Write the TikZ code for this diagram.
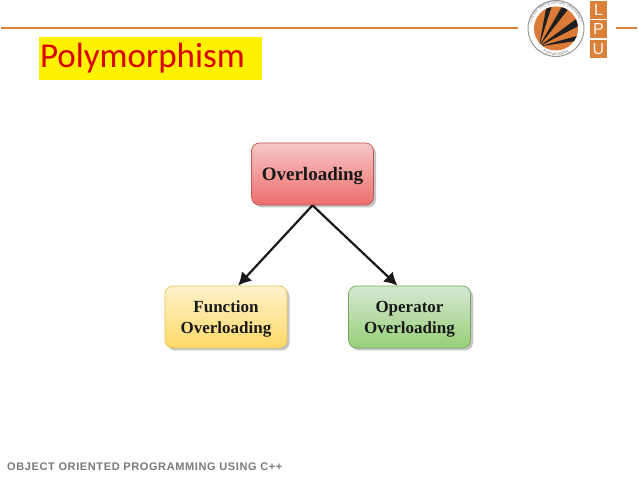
\documentclass[tikz,border=0pt]{standalone}
\usepackage{fontspec}
\setmainfont{Liberation Serif}
\newfontfamily\titlefont{Carlito}
\newfontfamily\footfont[LetterSpace=5.6]{Liberation Sans}
\newfontfamily\logofont{Liberation Sans}
\usetikzlibrary{calc,shadows,positioning,arrows.meta,decorations.text}
\definecolor{lpuorange}{HTML}{D9813A}
\definecolor{rojoa}{HTML}{F8C6C6}
\definecolor{rojob}{HTML}{EC6E6C}
\definecolor{amarilloa}{HTML}{FFF2CC}
\definecolor{amarillob}{HTML}{FFD966}
\definecolor{verdea}{HTML}{D5E8D4}
\definecolor{verdeb}{HTML}{97D077}
\tikzset{
    box/.style={rectangle,rounded corners=8pt,minimum width=122pt,minimum height=62pt,
        align=center,line width=0.7pt,text=black!90,text depth=0pt,
        node font=\bfseries\fontsize{17pt}{21pt}\selectfont,
        drop shadow={shadow xshift=2.5pt,shadow yshift=-2.5pt,opacity=0.45}},
    flecha/.style={draw,-{Latex[length=13pt,width=14pt]},line width=2.2pt,black!90},
    regla/.style={draw=lpuorange,line width=2.8pt},
    letra/.style={fill=lpuorange,text=white!92!lpuorange,minimum width=17pt,minimum height=18pt,
        inner sep=0pt,node font=\logofont\fontsize{16pt}{16pt}\selectfont},
}
\begin{document}
\begin{tikzpicture}[x=1pt,y=1pt]
    \useasboundingbox [fill=white] (0,0) rectangle (638,478);

    % lines on top
    \coordinate (l1) at (1,450);
    \coordinate (l2) at (518,450);
    \coordinate (r1) at (616,450);
    \coordinate (r2) at (637,450);
    \path [regla] (l1) -- (l2);
    \path [regla] (r1) -- (r2);

    % logo
    \node [circle,draw=black!40,line width=1pt,fill=white,minimum size=56pt,inner sep=0pt] (logo) at (556,449.5) {};
    \fill [lpuorange!95!red] (logo.center) circle (22);
    \begin{scope}
        \clip (logo.center) circle (22);
        \foreach \ang/\wid in {76/3.5,56/4,32/4.5,12/3.5} {
            \fill [black!88] ($(logo.center)+(-17,-18)$) -- ++(\ang+\wid:60) -- ++(\ang-\wid-90:{60*2*sin(\wid)}) -- cycle;
        }
    \end{scope}
    \path [decorate,decoration={text along path,text align=center,
        text={|\logofont\fontsize{3.6pt}{3.6pt}\selectfont\color{black!55}|LOVELY PROFESSIONAL UNIVERSITY}}]
        (531.5,445) arc (190:-10:24.8);
    \path [decorate,decoration={text along path,text align=center,
        text={|\logofont\fontsize{3.6pt}{3.6pt}\selectfont\color{black!55}|PUNJAB (INDIA)}}]
        (539,429) arc (229:311:26);

    \node [letra] (L) at (598.5,468) {L};
    \node [letra,below=1pt of L] (P) {P};
    \node [letra,below=1pt of P] (U) {U};

    % title
    \node [fill=yellow,minimum width=223pt,minimum height=43pt,inner sep=0pt] (banda) at (150,419.5) {};
    \node [right=1.5pt of banda.west,anchor=west,text=red!85!black,inner sep=0pt,
        node font=\titlefont\fontsize{35pt}{35pt}\selectfont] (titulo) {Polymorphism};

    % diagram
    \node [box,draw=rojob!80!black,top color=rojoa,bottom color=rojob,
        node font=\bfseries\fontsize{19pt}{21pt}\selectfont] (over) at (312.5,304) {Overloading};
    \node [box,draw=amarillob!90!black,top color=amarilloa,bottom color=amarillob] (func) at (226,161) {Function\\Overloading};
    \node [box,draw=verdeb!80!black,top color=verdea,bottom color=verdeb] (oper) at (409.5,161) {Operator\\Overloading};
    \path [flecha] (over.south) -- (func.69);
    \path [flecha] (over.south) -- (oper.111);

    % footer
    \node [anchor=west,inner sep=0pt,text=black!52,
        node font=\footfont\bfseries\fontsize{11pt}{11pt}\selectfont] (pie) at (7,11.5) {OBJECT ORIENTED PROGRAMMING USING C++};
\end{tikzpicture}
\end{document}
